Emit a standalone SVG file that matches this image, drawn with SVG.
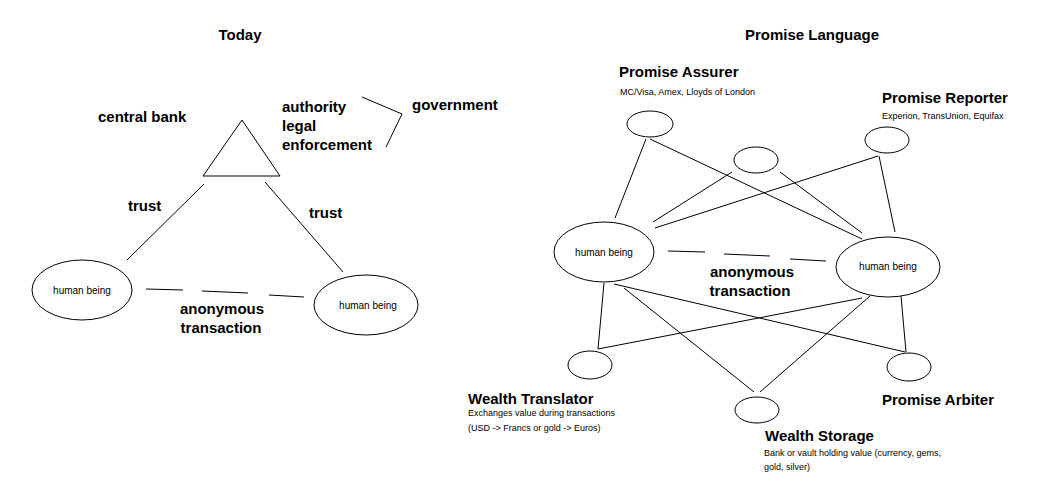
<svg xmlns="http://www.w3.org/2000/svg" width="1042" height="484" viewBox="0 0 1042 484">
<style>
text{font-family:"Liberation Sans",Arial,sans-serif;fill:#000}
.b{font-weight:bold;font-size:15px}
.s{font-size:9px}
.h{font-size:10px}
.c{text-anchor:middle}
ellipse,polygon,line,polyline{fill:none;stroke:#000;stroke-width:1}
</style>
<rect width="1042" height="484" fill="#fff"/>
<text class="b c" x="240" y="40">Today</text>
<text class="b c" x="812" y="40">Promise Language</text>
<g id="central-bank"><polygon points="242,120 203,176 280,176"/><text class="b" x="98" y="122">central bank</text></g>
<g id="authority"><text class="b" x="282" y="112">authority</text><text class="b" x="282" y="131">legal</text><text class="b" x="282" y="150">enforcement</text></g>
<g id="government"><text class="b" x="412" y="110">government</text></g>
<g id="human1"><ellipse cx="82" cy="290" rx="50" ry="30"/><text class="h c" x="82" y="294">human being</text></g>
<g id="human2"><ellipse cx="366" cy="305" rx="52" ry="30"/><text class="h c" x="368" y="309">human being</text></g>
<g id="left-labels"><text class="b" x="128" y="211">trust</text><text class="b" x="309" y="218">trust</text><text class="b c" x="222" y="314">anonymous</text><text class="b c" x="221" y="333">transaction</text></g>
<g id="r-human1"><ellipse cx="604" cy="252" rx="50" ry="30"/><text class="h c" x="604" y="256">human being</text></g>
<g id="r-human2"><ellipse cx="888" cy="267" rx="52" ry="30"/><text class="h c" x="888" y="270">human being</text></g>
<g id="assurer"><ellipse cx="650" cy="124" rx="23" ry="13"/><text class="b" x="619" y="77">Promise Assurer</text><text class="s" x="620" y="95">MC/Visa, Amex, Lloyds of London</text></g>
<g id="middle"><ellipse cx="756" cy="160" rx="22" ry="13"/></g>
<g id="reporter"><ellipse cx="887" cy="140" rx="22" ry="13"/><text class="b" x="882" y="103">Promise Reporter</text><text class="s" x="882" y="119">Experion, TransUnion, Equifax</text></g>
<g id="translator"><ellipse cx="590" cy="365" rx="22" ry="14"/><text class="b" x="468" y="404">Wealth Translator</text><text class="s" x="468" y="416">Exchanges value during transactions</text><text class="s" x="468" y="431">(USD -&gt; Francs or gold -&gt; Euros)</text></g>
<g id="storage"><ellipse cx="757" cy="410" rx="22" ry="13"/><text class="b" x="765" y="441">Wealth Storage</text><text class="s" x="764" y="456">Bank or vault holding value (currency, gems,</text><text class="s" x="764" y="470">gold, silver)</text></g>
<g id="arbiter"><ellipse cx="909" cy="367" rx="22" ry="14"/><text class="b" x="882" y="405">Promise Arbiter</text></g>
<g id="r-labels"><text class="b c" x="752" y="277">anonymous</text><text class="b c" x="750" y="296">transaction</text></g>
<g id="connectors">
<line x1="204" y1="184" x2="127" y2="260"/><line x1="265" y1="182" x2="343" y2="272"/>
<line x1="146" y1="289" x2="183" y2="290"/><line x1="202" y1="291" x2="248" y2="293"/><line x1="269" y1="295" x2="304" y2="297"/>
<polyline points="362,97 402,114 386,147"/>
<line x1="646" y1="139" x2="615" y2="218"/><line x1="650" y1="139" x2="862" y2="239"/>
<line x1="732" y1="172" x2="653" y2="222"/><line x1="780" y1="172" x2="862" y2="233"/>
<line x1="878" y1="156" x2="655" y2="228"/><line x1="879" y1="156" x2="895" y2="232"/>
<line x1="668" y1="251" x2="705" y2="252"/><line x1="724" y1="254" x2="770" y2="256"/><line x1="790" y1="259" x2="826" y2="261"/>
<line x1="604" y1="283" x2="598" y2="349"/><line x1="614" y1="284" x2="905" y2="352"/>
<line x1="624" y1="288" x2="754" y2="392"/><line x1="862" y1="298" x2="598" y2="349"/>
<line x1="870" y1="296" x2="760" y2="392"/><line x1="901" y1="296" x2="906" y2="352"/>
</g>
</svg>
